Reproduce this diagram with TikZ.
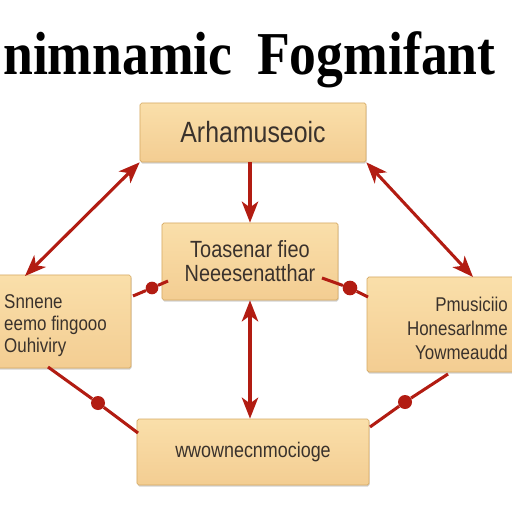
\documentclass[tikz,border=0pt]{standalone}
\usepackage{fontspec}
\setmainfont{Liberation Serif}
\newfontfamily\titlefont[FakeStretch=0.88]{Liberation Serif Bold}
\newfontfamily\boxfont[FakeStretch=0.85]{Liberation Sans}
\usetikzlibrary{arrows.meta,shadows}
\definecolor{arrowred}{RGB}{178,28,18}
\definecolor{boxtop}{RGB}{250,223,170}
\definecolor{boxbot}{RGB}{243,205,146}
\definecolor{boxedge}{RGB}{214,170,100}
\definecolor{textcol}{RGB}{58,50,44}
\begin{document}
\begin{tikzpicture}[x=0.03cm,y=-0.03cm,
  >={Stealth[length=18pt,width=14pt,inset=5pt]},
  box/.style={draw=boxedge, line width=0.6pt, top color=boxtop, bottom color=boxbot,
    rounded corners=1.5pt, inner sep=0pt, text=textcol,
    drop shadow={shadow xshift=0.5pt,shadow yshift=-1.3pt,opacity=0.35}},
  boxtext/.style={inner sep=0pt, text=textcol},
  conn/.style={draw=arrowred, line width=2.6pt},
  dotnode/.style={circle, fill=arrowred, inner sep=0pt, minimum size=0.38cm},
  title/.style={font=\titlefont\fontsize{52}{60}\selectfont, inner sep=0pt, text=black}]
\clip (0,0) rectangle (512,512);
\fill[white] (0,0) rectangle (512,512);

% title
\node[title, anchor=base west] (t1) at (3,75) {nimnamic};
\node[title, anchor=base west] (t2) at (257,75) {Fogmifant};

% boxes
\node[box, minimum width=6.78cm, minimum height=1.77cm,
      font=\boxfont\fontsize{25}{28}\selectfont] (top) at (253,132.5) {Arhamuseoic};
\node[box, minimum width=5.28cm, minimum height=2.31cm, align=center,
      font=\boxfont\fontsize{20}{20.5}\selectfont] (mid) at (250,261.5) {\raisebox{-6pt}{\parbox{5cm}{\centering Toasenar fieo\\ Neeesenatthar}}};
\node[box, minimum width=4.08cm, minimum height=2.79cm] (left) at (63,321.5) {};
\node[box, minimum width=4.5cm, minimum height=2.85cm] (right) at (442,324.5) {};
\node[box, minimum width=6.96cm, minimum height=1.98cm,
      font=\boxfont\fontsize{18}{20}\selectfont] (bottom) at (253,452) {wwownecnmocioge};

% side texts
\node[boxtext, anchor=west, align=left, font=\boxfont\fontsize{17}{18.8}\selectfont] (lefttext) at (4,326) {Snnene\\ eemo fingooo\\ Ouhiviry};
\node[boxtext, anchor=east, align=right, font=\boxfont\fontsize{17}{20.4}\selectfont] (righttext) at (508,328) {Pmusiciio\\ Honesarlnme\\ Yowmeaudd\hspace{3pt}};

% connector end points
\coordinate (lt) at (25,276);
\coordinate (rt) at (473,277);
\coordinate (l1) at (133,296);
\coordinate (m1) at (168,281);
\coordinate (m2) at (322,278);
\coordinate (r1) at (368,297);
\coordinate (l2) at (48,367);
\coordinate (b1) at (138,433);
\coordinate (r2) at (448,374);
\coordinate (b2) at (370,427);

% arrows
\draw[conn, <->] (lt) -- (top.south west);
\draw[conn, <->] (top.south east) -- (rt);
\draw[conn, ->] (mid.north |- top.south) -- (mid.north);
\draw[conn, <->] (mid.south) -- (mid.south |- bottom.north);

% dotted connectors
\node[dotnode] (d1) at (152,288) {};
\node[dotnode, minimum size=0.44cm] (d2) at (350,288) {};
\node[dotnode, minimum size=0.42cm] (d3) at (98,403) {};
\node[dotnode, minimum size=0.42cm] (d4) at (405,402) {};
\draw[conn] (l1) -- (d1) -- (m1);
\draw[conn] (m2) -- (d2) -- (r1);
\draw[conn] (l2) -- (d3) -- (b1);
\draw[conn] (r2) -- (d4) -- (b2);
\end{tikzpicture}
\end{document}
